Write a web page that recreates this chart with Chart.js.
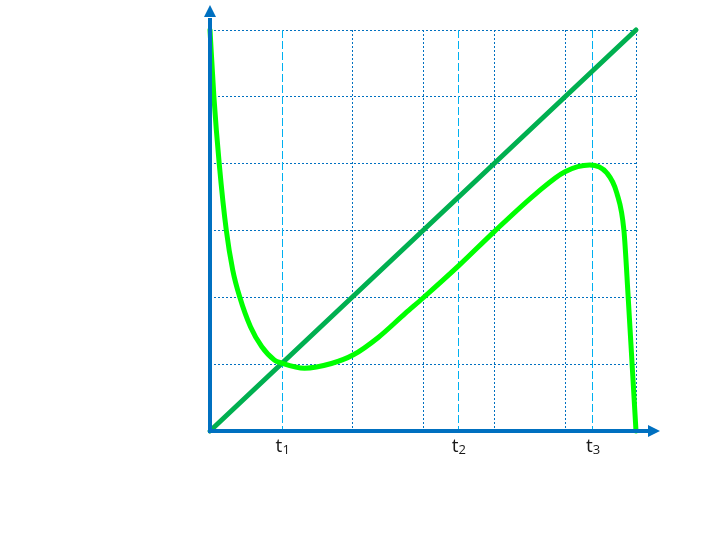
<!DOCTYPE html>
<html>
<head>
<meta charset="utf-8">
<script src="https://cdn.jsdelivr.net/npm/chart.js@4.4.0/dist/chart.umd.min.js"></script>
<style>
html,body{margin:0;padding:0;background:#fff;}
#c{display:block;}
</style>
</head>
<body>
<canvas id="c" width="720" height="540"></canvas>
<script>
// ---- data ----
const curveX = [0, 0.055, 0.13, 0.23, 0.32, 0.42, 0.57, 0.73, 0.91, 1.0, 1.33, 1.71, 2.02, 2.37, 2.75, 3.0, 3.5, 4.0, 4.6, 5.0, 5.35, 5.59, 5.73, 5.83, 5.89, 5.945, 6.0];
const curveY = [6.0, 5.0, 4.0, 3.0, 2.41, 2.0, 1.56, 1.26, 1.06, 1.02, 0.94, 1.01, 1.14, 1.40, 1.76, 1.99, 2.47, 2.98, 3.56, 3.88, 3.98, 3.86, 3.56, 3.0, 2.0, 1.0, 0.0];
const lineX = [0, 6];
const lineY = [0, 6];
const markerNames = ['t', 't', 't'];
const markerSubs = ['1', '2', '3'];
const markerX = [1.01, 3.49, 5.38];
const gridX = [2, 3, 4, 5, 6];
const gridY = [1, 2, 3, 4, 5, 6];

const DOT = '#0070C0', DASH = '#00B0F0', AXIS = '#0070C0';

const axisPlugin = {
  id: 'axisArrows',
  beforeDatasetsDraw(chart) {
    const {ctx, scales:{x, y}} = chart;
    const yb = y.getPixelForValue(0), yt = y.getPixelForValue(6);
    ctx.save();
    ctx.strokeStyle = DASH; ctx.lineWidth = 1; ctx.setLineDash([8, 3]);
    markerX.forEach(v => {
      const px = Math.round(x.getPixelForValue(v)) + 0.5;
      ctx.beginPath(); ctx.moveTo(px, yt); ctx.lineTo(px, yb); ctx.stroke();
    });
    ctx.restore();
  },
  afterDatasetsDraw(chart) {
    const {ctx, scales:{x, y}} = chart;
    const x0 = x.getPixelForValue(0), y0 = y.getPixelForValue(0);
    const xr = x.getPixelForValue(6), yt = y.getPixelForValue(6);
    ctx.save();
    ctx.strokeStyle = AXIS; ctx.fillStyle = AXIS; ctx.lineWidth = 4; ctx.lineCap = 'butt';
    // y axis
    ctx.beginPath(); ctx.moveTo(x0, y0 + 2); ctx.lineTo(x0, yt - 12); ctx.stroke();
    ctx.beginPath(); ctx.moveTo(x0 - 6, yt - 13); ctx.lineTo(x0 + 6, yt - 13); ctx.lineTo(x0, yt - 25); ctx.closePath(); ctx.fill();
    // x axis
    ctx.beginPath(); ctx.moveTo(x0 - 2, y0); ctx.lineTo(xr + 12, y0); ctx.stroke();
    ctx.beginPath(); ctx.moveTo(xr + 12, y0 - 6); ctx.lineTo(xr + 12, y0 + 6); ctx.lineTo(xr + 24, y0); ctx.closePath(); ctx.fill();
    ctx.restore();
  },
  afterDraw(chart) {
    const {ctx, scales:{x, y}} = chart;
    const y0 = y.getPixelForValue(0);
    ctx.save();
    ctx.fillStyle = '#1a1a1a';
    ctx.textBaseline = 'alphabetic';
    markerX.forEach((v, i) => {
      const px = x.getPixelForValue(v);
      ctx.font = '19px "Open Sans", "Noto Sans", sans-serif';
      const w1 = ctx.measureText(markerNames[i]).width;
      ctx.font = '13px "Open Sans", "Noto Sans", sans-serif';
      const w2 = ctx.measureText(markerSubs[i]).width;
      const start = px - (w1 + w2) / 2 + 1;
      ctx.font = '19px "Open Sans", "Noto Sans", sans-serif';
      ctx.fillText(markerNames[i], start, y0 + 21);
      ctx.font = '13px "Open Sans", "Noto Sans", sans-serif';
      ctx.fillText(markerSubs[i], start + w1, y0 + 23);
    });
    ctx.restore();
  }
};

const hiddenTicks = { display: false };

new Chart(document.getElementById('c'), {
  type: 'line',
  data: {
    datasets: [
      {
        data: curveX.map((v, i) => ({x: v, y: curveY[i]})),
        borderColor: '#00FF00', borderWidth: 5, pointRadius: 0,
        cubicInterpolationMode: 'monotone', fill: false, clip: false,
        borderCapStyle: 'round', borderJoinStyle: 'round', order: 0
      },
      {
        data: lineX.map((v, i) => ({x: v, y: lineY[i]})),
        borderColor: '#00B050', borderWidth: 5, pointRadius: 0,
        fill: false, clip: false, borderCapStyle: 'round', order: 1
      }
    ]
  },
  options: {
    responsive: false,
    animation: false,
    devicePixelRatio: 1,
    layout: { padding: { left: 210, right: 84, top: 30, bottom: 109 } },
    plugins: { legend: { display: false }, tooltip: { enabled: false } },
    scales: {
      x: {
        type: 'linear', min: 0, max: 6, position: 'bottom',
        afterBuildTicks: (axis) => { axis.ticks = gridX.map(v => ({value: v})); },
        ticks: hiddenTicks,
        grid: { drawTicks: false, lineWidth: 1, color: DOT },
        border: { display: false, dash: [2, 2] }
      },
      y: {
        type: 'linear', min: 0, max: 6,
        afterBuildTicks: (axis) => { axis.ticks = gridY.map(v => ({value: v})); },
        ticks: hiddenTicks,
        grid: { drawTicks: false, lineWidth: 1, color: DOT },
        border: { display: false, dash: [2, 2] }
      }
    }
  },
  plugins: [axisPlugin]
});
</script>
</body>
</html>
